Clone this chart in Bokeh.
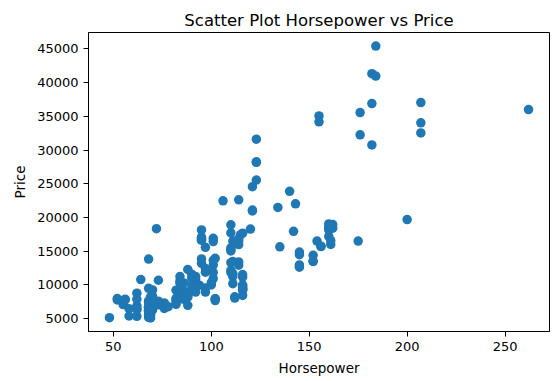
from bokeh.plotting import figure
from bokeh.models import Range1d, FixedTicker, ColumnDataSource, NumeralTickFormatter
from bokeh.embed import file_html
from bokeh.resources import INLINE

# Horsepower / price pairs (automobile data), grouped by make
horsepower = [
    111, 111, 154,
    102, 115, 110, 110, 110, 140,
    101, 101, 121, 121, 121, 182, 182, 182,
    48, 70, 70,
    68, 68, 102, 68, 68, 68, 88, 88, 145,
    58, 76, 58, 76, 76, 76, 76, 86, 86, 86, 86, 101, 100,
    78, 90,
    176, 176, 262,
    68, 68, 68, 68, 68, 101, 101, 101, 135, 84, 84, 84, 84, 64, 84, 120, 72,
    123, 123, 123, 123, 155, 155, 184, 184,
    175,
    68, 68, 68, 102, 116, 88, 145, 145, 145, 88, 88, 116, 116,
    69, 55, 69, 69, 69, 69, 69, 69, 69, 69, 97, 97, 152, 152, 152, 160, 200, 160,
    97, 95, 97, 95, 97, 95, 95, 95, 95, 142, 95,
    68, 102, 68, 68, 68, 88, 145,
    143, 207, 207, 207,
    110, 110, 110, 110, 160, 160,
    69, 73, 73, 82, 82, 94, 82, 111, 82, 111, 82, 111,
    62, 62, 62, 62, 62, 62, 70, 70, 56, 56, 70, 70, 70, 112, 112, 116, 116, 116,
    116, 116, 116, 116, 116, 73, 92, 92, 92, 92, 161, 161, 156, 156,
    52, 85, 52, 85, 85, 68, 100, 90, 90, 110, 68, 88,
    114, 114, 114, 114, 162, 162, 114, 160, 134, 106, 114,
]

price = [
    13495, 16500, 16500,
    13950, 17450, 15250, 17710, 18920, 23875,
    16430, 16925, 20970, 21105, 24565, 30760, 41315, 36880,
    5151, 6295, 6575,
    5572, 6377, 7957, 6229, 6692, 7609, 8558, 8921, 12964,
    6479, 6855, 5399, 6529, 7129, 7295, 7295, 7895, 9095, 8845, 10295, 12945, 10345,
    6785, 11048,
    32250, 35550, 36000,
    5195, 6095, 6795, 6695, 7395, 10945, 11845, 13645, 15645, 8845, 8495, 10595,
    10245, 10795, 11245, 18280, 18344,
    25552, 28248, 28176, 31600, 34184, 35056, 40960, 45400,
    16503,
    5389, 6189, 6669, 7689, 9959, 8499, 12629, 14869, 14489, 6989, 8189, 9279, 9279,
    5499, 7099, 6649, 6849, 7349, 7299, 7799, 7499, 7999, 8249, 8949, 9549, 13499,
    14399, 13499, 17199, 19699, 18399,
    11900, 13200, 12440, 13860, 15580, 16900, 16695, 17075, 16630, 17950, 18150,
    5572, 7957, 6229, 6692, 7609, 8921, 12764,
    22018, 32528, 34028, 37028,
    11850, 12170, 15040, 15510, 18150, 18620,
    5118, 7053, 7603, 7126, 7775, 9960, 9233, 11259, 7463, 10198, 8013, 11694,
    5348, 6338, 6488, 6918, 7898, 8778, 6938, 7198, 7898, 7788, 7738, 8358, 9258,
    8058, 8238, 9298, 9538, 8449, 9639, 9989, 11199, 11549, 17669, 10698, 8948,
    9988, 10898, 11248, 16558, 15998, 15690, 15750,
    7775, 7975, 7995, 8195, 8495, 9495, 9995, 11595, 9980, 13295, 13845, 12290,
    12940, 13415, 15985, 16515, 18420, 18950, 16845, 19045, 21485, 22470, 22625,
]

x_ticks = [50, 100, 150, 200, 250]
y_ticks = [5000, 10000, 15000, 20000, 25000, 30000, 35000, 40000, 45000]

source = ColumnDataSource(data=dict(hp=horsepower, price=price))

def padded(vals, frac=0.05):
    lo, hi = min(vals), max(vals)
    pad = (hi - lo) * frac
    return Range1d(lo - pad, hi + pad)

FONT = "DejaVu Sans"

p = figure(
    width=552, height=378,
    output_backend="svg", toolbar_location=None,
    title="Scatter Plot Horsepower vs Price",
    x_axis_label="Horsepower", y_axis_label="Price",
    x_range=padded(horsepower), y_range=padded(price),
    min_border_left=88, min_border_right=3,
    min_border_top=32, min_border_bottom=47,
)

p.scatter("hp", "price", source=source, size=9.5,
          fill_color="#1f77b4", line_color=None)

p.title.align = "center"
p.title.text_font = FONT
p.title.text_font_size = "16.5px"
p.title.text_font_style = "normal"
p.title.text_color = "#000000"
p.title.standoff = 6

p.xgrid.visible = False
p.ygrid.visible = False
p.outline_line_color = "#000000"
p.outline_line_width = 1
p.background_fill_color = "white"
p.border_fill_color = "white"

p.xaxis.ticker = FixedTicker(ticks=x_ticks)
p.yaxis.ticker = FixedTicker(ticks=y_ticks)
p.yaxis.formatter = NumeralTickFormatter(format="0")

for ax in (p.xaxis, p.yaxis):
    ax.axis_line_color = "#000000"
    ax.major_tick_line_color = "#000000"
    ax.major_tick_out = 5
    ax.major_tick_in = 0
    ax.minor_tick_line_color = None
    ax.major_label_text_font = FONT
    ax.major_label_text_font_size = "13px"
    ax.major_label_text_color = "#000000"
    ax.axis_label_text_font = FONT
    ax.axis_label_text_font_size = "13.5px"
    ax.axis_label_text_font_style = "normal"
    ax.axis_label_text_color = "#000000"
    ax.major_label_standoff = 5
    ax.axis_label_standoff = 6

open("out.html", "w").write(file_html(p, INLINE))
